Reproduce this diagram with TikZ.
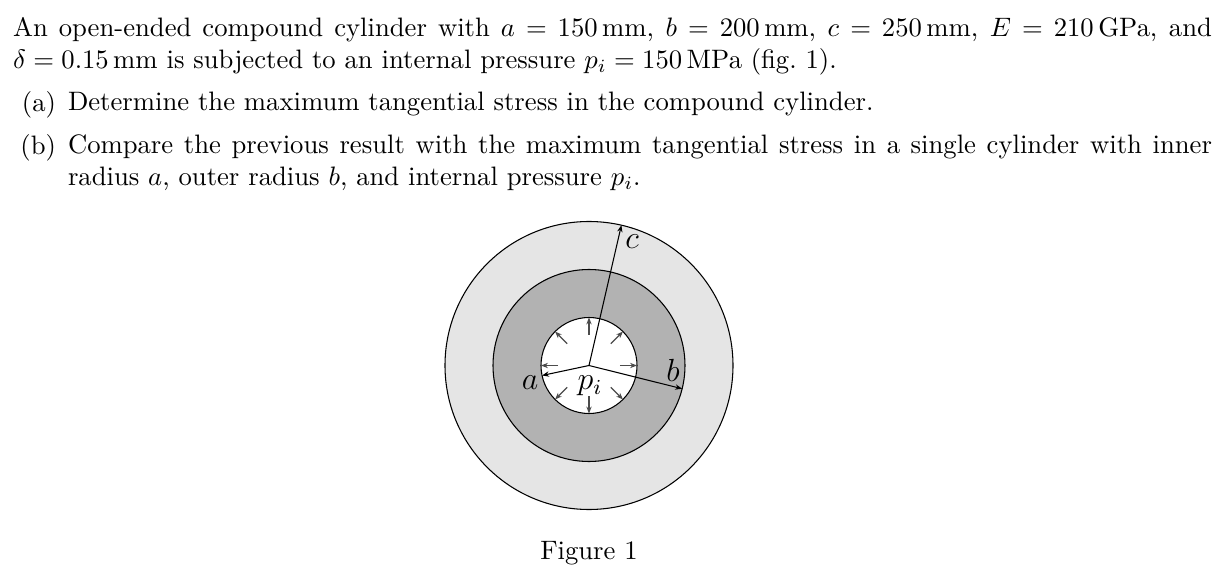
\documentclass[tikz,border=0pt]{standalone}
\usepackage{amssymb,mathtools}
\usetikzlibrary{arrows.meta}
\newcommand{\unitmm}[1]{\ensuremath{#1\,\mathrm{mm}}}
\tikzset{
	para/.style={anchor=north west, inner sep=0pt, outer sep=0pt, align=justify},
	ring/.style={circle, draw, inner sep=0pt, outer sep=0pt, line width=0.4pt},
	radius/.style={-{Stealth[length=2.6pt, width=2pt]}, line width=0.4pt},
	press/.style={-{Stealth[length=2.6pt, width=2pt]}, line width=0.4pt, black!70},
	lab/.style={inner sep=0pt, font=\large}
}
\begin{document}
\begin{tikzpicture}[x=0.375pt, y=0.375pt]
			\useasboundingbox (0,0) rectangle (1227,569);
			\node[para, text width=449.6pt] (intro) at (13,552)
			{An open-ended compound cylinder with $a=\unitmm{150}$, $b=\unitmm{200}$, $c=\unitmm{250}$, $E=210\,\mathrm{GPa}$, and $\delta=\unitmm{0.15}$ is subjected to an internal pressure $p_i=150\,\mathrm{MPa}$ (fig.~1).};
			\node[para, text width=429pt] (parta) at (68,477)
			{Determine the maximum tangential stress in the compound cylinder.};
			\node[para, text width=429pt] (partb) at (68,434)
			{Compare the previous result with the maximum tangential stress in a single cylinder with inner radius $a$, outer radius $b$, and internal pressure $p_i$.};
			\node[para, anchor=north east] (mark-a) at (56,477) {(a)};
			\node[para, anchor=north east] (mark-b) at (56,434) {(b)};

			\coordinate (center) at (589,203.5);
			\node[ring, fill=black!10, minimum size=108pt] (outer) at (center) {};
			\node[ring, fill=black!30, minimum size=72pt] (middle) at (center) {};
			\node[ring, fill=white, minimum size=36pt] (inner) at (center) {};

			\foreach \ang in {0,45,...,315}
			{
				\path (center) ++(\ang:11.6pt) coordinate (p\ang);
				\draw[press] (p\ang) -- (inner.\ang);
			}

			\path[radius]
			(center) edge (inner.192.5)
					edge (middle.-14.3)
					edge (outer.77.2);

			\node[lab] (a) at (530,186) {$a$};
			\node[lab] (b) at (673,199) {$b$};
			\node[lab] (c) at (632,327) {$c$};
			\node[lab] (pi) at (590,183) {$p_i$};
			\node[inner sep=0pt] (caption) at (589,16) {Figure 1};
		\end{tikzpicture}
\end{document}
